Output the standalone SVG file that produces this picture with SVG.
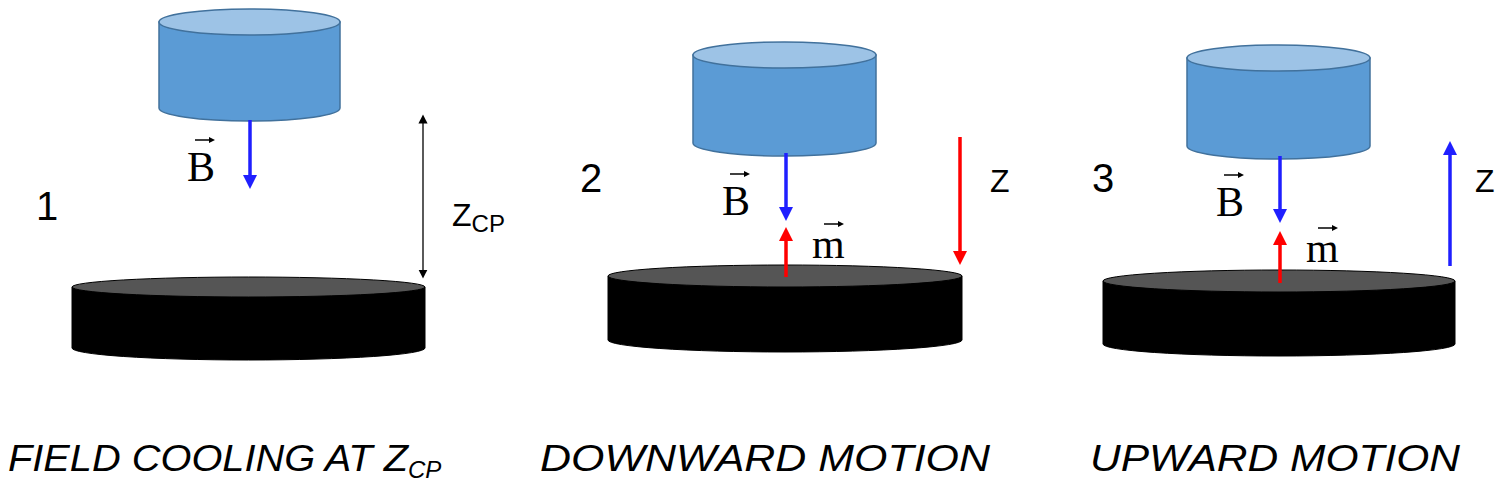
<svg xmlns="http://www.w3.org/2000/svg" width="1500" height="493" viewBox="0 0 1500 493">
<style>
.cyl{fill:#5b9bd5;stroke:#41719c;stroke-width:1.5}
.cyltop{fill:#9dc3e6;stroke:#41719c;stroke-width:1.5}
.disk{fill:#000;stroke:#000}
.disktop{fill:#555;stroke:#000;stroke-width:1}
.lbl{font-family:"Liberation Serif",serif;font-size:42px;fill:#000}
.vec{stroke:#000;stroke-width:1.5;fill:none}
.num{font-family:"Liberation Sans",sans-serif;font-size:40px;fill:#000}
.cap{font-family:"Liberation Sans",sans-serif;font-style:italic;font-size:36px;fill:#000}
.z{font-family:"Liberation Sans",sans-serif;font-size:32px;fill:#000}
</style>
<defs>
<marker id="ab" markerWidth="4" markerHeight="4" refX="2" refY="2" orient="auto"><path d="M0,0L4,2L0,4z" fill="#1f1fff"/></marker>
<marker id="ar" markerWidth="4" markerHeight="4" refX="2" refY="2" orient="auto"><path d="M0,0L4,2L0,4z" fill="#f00"/></marker>
<marker id="ak" markerWidth="7" markerHeight="7" refX="5" refY="3.5" orient="auto-start-reverse"><path d="M0,0L7,3.5L0,7z" fill="#000"/></marker>
<marker id="av" markerWidth="6" markerHeight="6" refX="3" refY="3" orient="auto" markerUnits="userSpaceOnUse"><path d="M0,0L6,3L0,6z" fill="#000"/></marker>
</defs>
<g id="magnet1"><path class="cyl" d="M159,22V108A90.5,13 0 0 0 340,108V22Z"/><ellipse class="cyltop" cx="249.5" cy="22" rx="90.5" ry="13"/></g>
<g id="disk1"><path class="disk" d="M72,287V348A176.5,12 0 0 0 425,348V287Z"/><ellipse class="disktop" cx="248.5" cy="287" rx="176.5" ry="10"/></g>
<g id="magnet2"><path class="cyl" d="M693,55V143A91.5,13 0 0 0 876,143V55Z"/><ellipse class="cyltop" cx="784.5" cy="55" rx="91.5" ry="13"/></g>
<g id="disk2"><path class="disk" d="M608,276V340A177,12 0 0 0 962,340V276Z"/><ellipse class="disktop" cx="785" cy="276" rx="177" ry="11"/></g>
<g id="magnet3"><path class="cyl" d="M1187,58V146A91.5,13 0 0 0 1370,146V58Z"/><ellipse class="cyltop" cx="1278.5" cy="58" rx="91.5" ry="13"/></g>
<g id="disk3"><path class="disk" d="M1103,281V344A176,12 0 0 0 1455,344V281Z"/><ellipse class="disktop" cx="1279" cy="281" rx="176" ry="11"/></g>
<g id="connectors" stroke-width="3.5">
<line x1="250" y1="120" x2="250" y2="182" stroke="#1f1fff" marker-end="url(#ab)"/>
<line x1="423" y1="117" x2="423" y2="276" stroke="#000" stroke-width="1.3" marker-start="url(#ak)" marker-end="url(#ak)"/>
<line x1="786" y1="153" x2="786" y2="214" stroke="#1f1fff" marker-end="url(#ab)"/>
<line x1="786" y1="277" x2="786" y2="234" stroke="#f00" marker-end="url(#ar)"/>
<line x1="960" y1="137" x2="960" y2="258" stroke="#f00" marker-end="url(#ar)"/>
<line x1="1280" y1="156" x2="1280" y2="216" stroke="#1f1fff" marker-end="url(#ab)"/>
<line x1="1280" y1="283" x2="1280" y2="238" stroke="#f00" marker-end="url(#ar)"/>
<line x1="1450" y1="266" x2="1450" y2="148" stroke="#1f1fff" marker-end="url(#ab)"/>
</g>
<g id="labels">
<text class="num" x="36" y="220">1</text>
<text class="num" x="580" y="192">2</text>
<text class="num" x="1092" y="192">3</text>
<text class="lbl" x="187" y="181">B</text><line class="vec" x1="195" y1="140" x2="212" y2="140" marker-end="url(#av)"/>
<text class="lbl" x="722" y="215">B</text><line class="vec" x1="730" y1="174" x2="747" y2="174" marker-end="url(#av)"/>
<text class="lbl" x="1216" y="216">B</text><line class="vec" x1="1224" y1="175" x2="1241" y2="175" marker-end="url(#av)"/>
<text class="lbl" x="812" y="258">m</text><line class="vec" x1="824" y1="224" x2="841" y2="224" marker-end="url(#av)"/>
<text class="lbl" x="1306" y="262">m</text><line class="vec" x1="1318" y1="228" x2="1335" y2="228" marker-end="url(#av)"/>
<text class="z" x="452" y="226">Z<tspan font-size="24" dy="6">CP</tspan></text>
<text class="z" x="990" y="192">Z</text>
<text class="z" x="1475" y="192">Z</text>
<text class="cap" x="8" y="471"><tspan textLength="400" lengthAdjust="spacingAndGlyphs">FIELD COOLING AT Z</tspan><tspan font-size="24" dy="7">CP</tspan></text>
<text class="cap" x="540" y="471" textLength="450" lengthAdjust="spacingAndGlyphs">DOWNWARD MOTION</text>
<text class="cap" x="1090" y="471" textLength="370" lengthAdjust="spacingAndGlyphs">UPWARD MOTION</text>
</g>
</svg>
